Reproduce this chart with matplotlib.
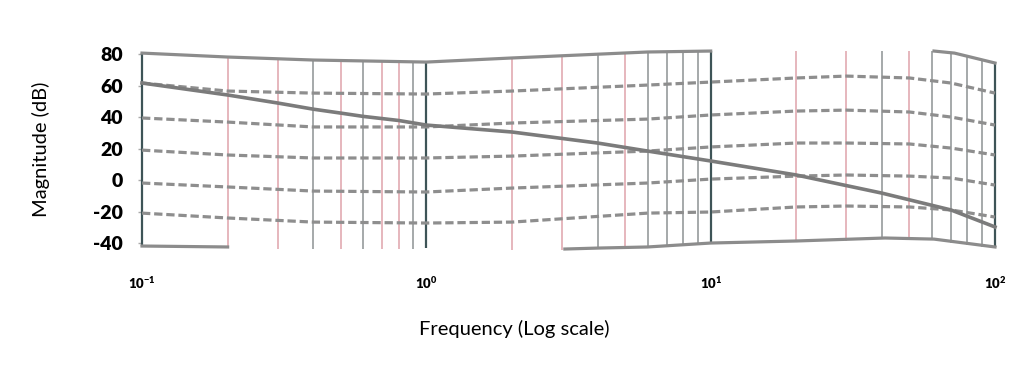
"""
Scanned Bode magnitude plot on log graph paper, redrawn.
The paper rulings in the scan are warped, so the dashed rows and the
top/bottom borders are kept as read-off values rather than straight lines.
"""

import numpy as np

import matplotlib
matplotlib.use("Agg")
import matplotlib.pyplot as plt
from matplotlib.ticker import FixedLocator, LogFormatterMathtext, NullFormatter, NullLocator

plt.rcParams["font.family"] = ["Lato", "DejaVu Sans"]
plt.rcParams["axes.unicode_minus"] = False

# magnitude response (solid curve)
resp_freq = [0.1, 0.2, 0.3, 0.4, 0.5, 0.6, 0.8, 1, 2, 4, 6, 10, 20, 40, 70, 100]
resp_db = [61.6, 54.0, 48.9, 45.0, 42.5, 40.4, 37.8, 34.9, 30.5, 23.5, 18.4, 12.1,
           3.2, -8.3, -19.0, -29.8]

# dashed paper rows (nominal 60, 40, 20, 0, -20 dB), as they sit in the scan
row_freq = [0.1, 0.2, 0.4, 1, 2, 6, 10, 20, 30, 50, 70, 100]
row_60 = [61.6, 56.5, 55.2, 54.6, 56.5, 60.3, 62.2, 64.8, 66.0, 64.8, 61.6, 55.2]
row_40 = [39.4, 36.8, 33.7, 33.7, 36.2, 38.7, 41.3, 43.8, 44.4, 43.2, 40.0, 34.9]
row_20 = [19.0, 15.9, 14.0, 14.0, 15.2, 18.4, 21.0, 23.5, 23.5, 22.9, 20.3, 15.9]
row_0 = [-1.9, -4.4, -7.0, -7.6, -5.1, -1.9, 0.6, 2.5, 3.2, 2.5, 1.3, -3.2]
row_m20 = [-21.0, -24.1, -26.7, -27.3, -26.7, -21.0, -20.3, -17.1, -16.5, -17.1, -19.0, -23.5]

# top border (gap between 10 and ~61 Hz in the scan)
top_freq_a = [0.1, 0.2, 0.4, 1, 2, 6, 10]
top_db_a = [80.6, 78.1, 76.2, 74.9, 77.5, 81.3, 81.9]
top_freq_b = [61, 72, 100]
top_db_b = [81.9, 80.6, 74.3]

# bottom border (gap between 0.2 and ~3 Hz in the scan)
bot_freq_a = [0.1, 0.2]
bot_db_a = [-41.9, -42.5]
bot_freq_b = [3.07, 4, 6, 10, 20, 41, 61, 100]
bot_db_b = [-43.8, -43.2, -42.5, -40.0, -38.7, -36.8, -37.5, -42.5]

y_ticks = [80, 60, 40, 20, 0, -20, -40]

# which minor rulings print pink (True) or grey (False), per decade, 2..9
PINK = [
    [True, True, False, True, False, True, True, False],
    [True, True, False, True, False, False, False, False],
    [True, True, False, True, False, False, False, False],
]

GREY = "#8c8c8c"
DARK = "#3e5457"

fig = plt.figure(figsize=(10.24, 3.75), dpi=100)
ax = fig.add_axes([0.1387, 0.333, 0.833, 0.5397])
ax.set_xscale("log")
ax.set_xlim(0.1, 100)
ax.set_ylim(-44.5, 84)

# vertical rulings, from bottom border to top border
top_f = top_freq_a + top_freq_b
top_v = top_db_a + top_db_b
bot_f = bot_freq_a + bot_freq_b
bot_v = bot_db_a + bot_db_b


def border_at(f, freqs, vals):
    return np.interp(np.log10(f), np.log10(freqs), vals)


for d, dec in enumerate([0.1, 1, 10]):
    for k in range(2, 10):
        f = dec * k
        col = "#dfa3ab" if PINK[d][k - 2] else "#8d9293"
        ax.vlines(f, border_at(f, bot_f, bot_v) - 0.8, border_at(f, top_f, top_v),
                  color=col, lw=1.1, zorder=1)
for f in [0.1, 1, 10, 100]:
    ax.vlines(f, border_at(f, bot_f, bot_v), border_at(f, top_f, top_v),
              color=DARK, lw=1.6, zorder=2, clip_on=False)

for row in [row_60, row_40, row_20, row_0, row_m20]:
    ax.plot(row_freq, row, color="#8e8e8e", lw=2.3, ls=(0, (2.6, 1.2)),
            zorder=3, clip_on=False)

ax.plot(top_freq_a, top_db_a, color=GREY, lw=2.3, zorder=3, clip_on=False)
ax.plot(top_freq_b, top_db_b, color=GREY, lw=2.3, zorder=3, clip_on=False)
ax.plot(bot_freq_a, bot_db_a, color=GREY, lw=2.3, zorder=3, clip_on=False)
ax.plot(bot_freq_b, bot_db_b, color=GREY, lw=2.3, zorder=3, clip_on=False)

ax.plot(resp_freq, resp_db, color="#7b7b7b", lw=2.6, zorder=4, clip_on=False)

for s in ax.spines.values():
    s.set_visible(False)

ax.yaxis.set_major_locator(FixedLocator(y_ticks))
ax.tick_params(axis="y", length=3, width=1, color="#aaaaaa", pad=11,
               labelsize=14)
for lab in ax.get_yticklabels():
    lab.set_fontweight("heavy")

ax.xaxis.set_major_formatter(LogFormatterMathtext())
ax.xaxis.set_minor_locator(NullLocator())
ax.xaxis.set_minor_formatter(NullFormatter())
ax.tick_params(axis="x", length=0, pad=18, labelsize=9.5)
for lab in ax.get_xticklabels():
    lab.set_fontweight("heavy")

ax.set_xlabel("Frequency (Log scale)", fontsize=14.5)
ax.xaxis.set_label_coords(0.436, -0.345)
ax.set_ylabel("Magnitude (dB)", fontsize=14.5)
ax.yaxis.set_label_coords(-0.108, 0.5)

fig.savefig("out.png", dpi=100)
plt.close(fig)
